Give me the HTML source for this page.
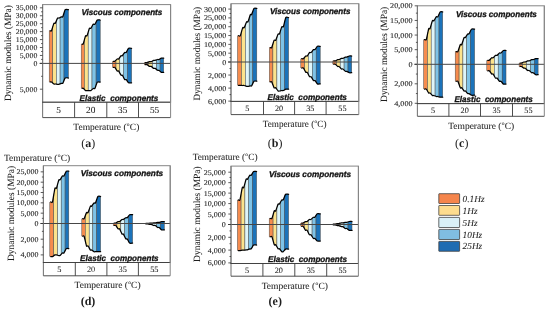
<!DOCTYPE html>
<html><head><meta charset="utf-8"><style>
html,body{margin:0;padding:0;background:#fff;}
text{font-family:'Liberation Serif','Times New Roman',serif;fill:#1e1e1e;text-rendering:geometricPrecision;}
.tb{stroke:#1e1e1e;stroke-width:0.06px;}
.tk{font-size:7.3px;stroke:#1e1e1e;stroke-width:0.1px;}
.yl{font-size:9.6px;stroke:#1e1e1e;stroke-width:0.06px;}
.tp{font-size:9.5px;stroke:#1e1e1e;stroke-width:0.06px;}
.pl{font-size:12px;}
.dg{font-size:85%;}
.lg{font-size:9.3px;font-style:italic;fill:#222;stroke:#222;stroke-width:0.05px;}
.ve{font-family:'Liberation Sans',Arial,sans-serif;font-weight:bold;font-style:italic;font-size:8.3px;fill:#111;stroke:#111;stroke-width:0.3px;}
svg{display:block;}
</style></head><body>
<svg width="550" height="309" viewBox="0 0 550 309">
<rect width="550" height="309" fill="#fff"/>
<rect x="42.6" y="4.6" width="128.00" height="97.60" fill="#fff" stroke="#858585" stroke-width="1"/>
<clipPath id="ca0"><path d="M50.10,82.00 C50.24,82.00 51.12,81.80 51.50,82.00 C51.88,82.20 53.53,83.80 53.90,84.00 C54.27,84.20 54.83,83.97 55.20,84.00 C55.57,84.03 57.23,84.27 57.60,84.30 C57.97,84.33 58.53,84.40 58.90,84.30 C59.27,84.20 60.91,83.40 61.30,83.30 C61.69,83.20 62.41,83.83 62.80,83.30 C63.19,82.77 64.64,78.53 65.20,78.00 C65.76,77.47 68.08,78.00 68.40,78.00 L70.40,78.00 L70.40,9.70 L68.40,9.70 L68.40,9.70 C68.08,9.70 65.76,8.99 65.20,9.70 C64.64,10.41 63.19,16.09 62.80,16.80 C62.41,17.51 61.69,16.67 61.30,16.80 C60.91,16.93 59.27,17.97 58.90,18.10 C58.53,18.23 57.97,17.58 57.60,18.10 C57.23,18.62 55.57,22.78 55.20,23.30 C54.83,23.82 54.27,22.56 53.90,23.30 C53.53,24.04 51.88,29.96 51.50,30.70 C51.12,31.44 50.24,30.70 50.10,30.70 L47.20,30.70 L47.20,82.00 Z"/></clipPath>
<g clip-path="url(#ca0)">
<rect x="49.20" y="3.70" width="3.50" height="86.60" fill="#f68c4e" stroke="#4a4a4a" stroke-width="0.5"/>
<rect x="52.70" y="3.70" width="3.70" height="86.60" fill="#fce38c" stroke="#4a4a4a" stroke-width="0.5"/>
<rect x="56.40" y="3.70" width="3.70" height="86.60" fill="#def5f9" stroke="#4a4a4a" stroke-width="0.5"/>
<rect x="60.10" y="3.70" width="3.90" height="86.60" fill="#7ec3e7" stroke="#4a4a4a" stroke-width="0.5"/>
<rect x="64.00" y="3.70" width="4.40" height="86.60" fill="#1b73ba" stroke="#4a4a4a" stroke-width="0.5"/>
</g>
<path d="M50.10,30.70 C50.24,30.70 51.12,31.44 51.50,30.70 C51.88,29.96 53.53,24.04 53.90,23.30 C54.27,22.56 54.83,23.82 55.20,23.30 C55.57,22.78 57.23,18.62 57.60,18.10 C57.97,17.58 58.53,18.23 58.90,18.10 C59.27,17.97 60.91,16.93 61.30,16.80 C61.69,16.67 62.41,17.51 62.80,16.80 C63.19,16.09 64.64,10.41 65.20,9.70 C65.76,8.99 68.08,9.70 68.40,9.70" fill="none" stroke="#000" stroke-width="1.25" stroke-linecap="round" stroke-linejoin="round"/>
<path d="M50.10,82.00 C50.24,82.00 51.12,81.80 51.50,82.00 C51.88,82.20 53.53,83.80 53.90,84.00 C54.27,84.20 54.83,83.97 55.20,84.00 C55.57,84.03 57.23,84.27 57.60,84.30 C57.97,84.33 58.53,84.40 58.90,84.30 C59.27,84.20 60.91,83.40 61.30,83.30 C61.69,83.20 62.41,83.83 62.80,83.30 C63.19,82.77 64.64,78.53 65.20,78.00 C65.76,77.47 68.08,78.00 68.40,78.00" fill="none" stroke="#000" stroke-width="1.25" stroke-linecap="round" stroke-linejoin="round"/>
<clipPath id="ca1"><path d="M82.10,88.30 C82.21,88.30 82.85,88.07 83.20,88.30 C83.55,88.53 85.22,90.37 85.60,90.60 C85.98,90.83 86.62,90.60 87.00,90.60 C87.38,90.60 89.02,90.60 89.40,90.60 C89.78,90.60 90.42,90.81 90.80,90.60 C91.18,90.39 92.79,88.71 93.20,88.50 C93.61,88.29 94.49,89.14 94.90,88.50 C95.31,87.86 96.77,82.74 97.30,82.10 C97.83,81.46 99.91,82.10 100.20,82.10 L102.20,82.10 L102.20,20.00 L100.20,20.00 L100.20,20.00 C99.91,20.00 97.83,19.57 97.30,20.00 C96.77,20.43 95.31,23.87 94.90,24.30 C94.49,24.73 93.61,23.89 93.20,24.30 C92.79,24.71 91.18,27.99 90.80,28.40 C90.42,28.81 89.78,27.66 89.40,28.40 C89.02,29.14 87.38,35.06 87.00,35.80 C86.62,36.54 85.98,34.98 85.60,35.80 C85.22,36.62 83.55,43.18 83.20,44.00 C82.85,44.82 82.21,44.00 82.10,44.00 L79.20,44.00 L79.20,88.30 Z"/></clipPath>
<g clip-path="url(#ca1)">
<rect x="81.20" y="14.00" width="3.20" height="82.60" fill="#f68c4e" stroke="#4a4a4a" stroke-width="0.5"/>
<rect x="84.40" y="14.00" width="3.80" height="82.60" fill="#fce38c" stroke="#4a4a4a" stroke-width="0.5"/>
<rect x="88.20" y="14.00" width="3.80" height="82.60" fill="#def5f9" stroke="#4a4a4a" stroke-width="0.5"/>
<rect x="92.00" y="14.00" width="4.10" height="82.60" fill="#7ec3e7" stroke="#4a4a4a" stroke-width="0.5"/>
<rect x="96.10" y="14.00" width="4.10" height="82.60" fill="#1b73ba" stroke="#4a4a4a" stroke-width="0.5"/>
</g>
<path d="M82.10,44.00 C82.21,44.00 82.85,44.82 83.20,44.00 C83.55,43.18 85.22,36.62 85.60,35.80 C85.98,34.98 86.62,36.54 87.00,35.80 C87.38,35.06 89.02,29.14 89.40,28.40 C89.78,27.66 90.42,28.81 90.80,28.40 C91.18,27.99 92.79,24.71 93.20,24.30 C93.61,23.89 94.49,24.73 94.90,24.30 C95.31,23.87 96.77,20.43 97.30,20.00 C97.83,19.57 99.91,20.00 100.20,20.00" fill="none" stroke="#000" stroke-width="1.25" stroke-linecap="round" stroke-linejoin="round"/>
<path d="M82.10,88.30 C82.21,88.30 82.85,88.07 83.20,88.30 C83.55,88.53 85.22,90.37 85.60,90.60 C85.98,90.83 86.62,90.60 87.00,90.60 C87.38,90.60 89.02,90.60 89.40,90.60 C89.78,90.60 90.42,90.81 90.80,90.60 C91.18,90.39 92.79,88.71 93.20,88.50 C93.61,88.29 94.49,89.14 94.90,88.50 C95.31,87.86 96.77,82.74 97.30,82.10 C97.83,81.46 99.91,82.10 100.20,82.10" fill="none" stroke="#000" stroke-width="1.25" stroke-linecap="round" stroke-linejoin="round"/>
<clipPath id="ca2"><path d="M113.40,67.40 C113.54,67.40 114.42,67.04 114.80,67.40 C115.18,67.76 116.82,70.64 117.20,71.00 C117.58,71.36 118.22,70.58 118.60,71.00 C118.98,71.42 120.63,74.78 121.00,75.20 C121.37,75.62 121.93,74.76 122.30,75.20 C122.67,75.64 124.31,79.16 124.70,79.60 C125.09,80.04 125.81,79.28 126.20,79.60 C126.59,79.92 128.06,82.48 128.60,82.80 C129.14,83.12 131.30,82.80 131.60,82.80 L133.60,82.80 L133.60,48.30 L131.60,48.30 L131.60,48.30 C131.30,48.30 129.14,47.88 128.60,48.30 C128.06,48.72 126.59,52.08 126.20,52.50 C125.81,52.92 125.09,52.17 124.70,52.50 C124.31,52.83 122.67,55.47 122.30,55.80 C121.93,56.13 121.37,55.48 121.00,55.80 C120.63,56.12 118.98,58.68 118.60,59.00 C118.22,59.32 117.58,58.77 117.20,59.00 C116.82,59.23 115.18,61.07 114.80,61.30 C114.42,61.53 113.54,61.30 113.40,61.30 L110.50,61.30 L110.50,67.40 Z"/></clipPath>
<g clip-path="url(#ca2)">
<rect x="112.50" y="42.30" width="3.50" height="46.50" fill="#f68c4e" stroke="#4a4a4a" stroke-width="0.5"/>
<rect x="116.00" y="42.30" width="3.80" height="46.50" fill="#fce38c" stroke="#4a4a4a" stroke-width="0.5"/>
<rect x="119.80" y="42.30" width="3.70" height="46.50" fill="#def5f9" stroke="#4a4a4a" stroke-width="0.5"/>
<rect x="123.50" y="42.30" width="3.90" height="46.50" fill="#7ec3e7" stroke="#4a4a4a" stroke-width="0.5"/>
<rect x="127.40" y="42.30" width="4.20" height="46.50" fill="#1b73ba" stroke="#4a4a4a" stroke-width="0.5"/>
</g>
<path d="M113.40,61.30 C113.54,61.30 114.42,61.53 114.80,61.30 C115.18,61.07 116.82,59.23 117.20,59.00 C117.58,58.77 118.22,59.32 118.60,59.00 C118.98,58.68 120.63,56.12 121.00,55.80 C121.37,55.48 121.93,56.13 122.30,55.80 C122.67,55.47 124.31,52.83 124.70,52.50 C125.09,52.17 125.81,52.92 126.20,52.50 C126.59,52.08 128.06,48.72 128.60,48.30 C129.14,47.88 131.30,48.30 131.60,48.30" fill="none" stroke="#000" stroke-width="1.25" stroke-linecap="round" stroke-linejoin="round"/>
<path d="M113.40,67.40 C113.54,67.40 114.42,67.04 114.80,67.40 C115.18,67.76 116.82,70.64 117.20,71.00 C117.58,71.36 118.22,70.58 118.60,71.00 C118.98,71.42 120.63,74.78 121.00,75.20 C121.37,75.62 121.93,74.76 122.30,75.20 C122.67,75.64 124.31,79.16 124.70,79.60 C125.09,80.04 125.81,79.28 126.20,79.60 C126.59,79.92 128.06,82.48 128.60,82.80 C129.14,83.12 131.30,82.80 131.60,82.80" fill="none" stroke="#000" stroke-width="1.25" stroke-linecap="round" stroke-linejoin="round"/>
<clipPath id="ca3"><path d="M145.20,64.70 C145.38,64.70 146.58,64.53 147.00,64.70 C147.42,64.87 148.98,66.23 149.40,66.40 C149.82,66.57 150.78,66.20 151.20,66.40 C151.62,66.60 153.20,68.20 153.60,68.40 C154.00,68.60 154.80,68.21 155.20,68.40 C155.60,68.59 157.23,70.11 157.60,70.30 C157.97,70.49 158.53,70.10 158.90,70.30 C159.27,70.50 160.82,72.10 161.30,72.30 C161.78,72.50 163.46,72.30 163.70,72.30 L165.70,72.30 L165.70,58.20 L163.70,58.20 L163.70,58.20 C163.46,58.20 161.78,58.07 161.30,58.20 C160.82,58.33 159.27,59.37 158.90,59.50 C158.53,59.63 157.97,59.41 157.60,59.50 C157.23,59.59 155.60,60.31 155.20,60.40 C154.80,60.49 154.00,60.28 153.60,60.40 C153.20,60.52 151.62,61.48 151.20,61.60 C150.78,61.72 149.82,61.50 149.40,61.60 C148.98,61.70 147.42,62.50 147.00,62.60 C146.58,62.70 145.38,62.60 145.20,62.60 L142.30,62.60 L142.30,64.70 Z"/></clipPath>
<g clip-path="url(#ca3)">
<rect x="144.30" y="52.20" width="3.90" height="26.10" fill="#f68c4e" stroke="#4a4a4a" stroke-width="0.5"/>
<rect x="148.20" y="52.20" width="4.20" height="26.10" fill="#fce38c" stroke="#4a4a4a" stroke-width="0.5"/>
<rect x="152.40" y="52.20" width="4.00" height="26.10" fill="#def5f9" stroke="#4a4a4a" stroke-width="0.5"/>
<rect x="156.40" y="52.20" width="3.70" height="26.10" fill="#7ec3e7" stroke="#4a4a4a" stroke-width="0.5"/>
<rect x="160.10" y="52.20" width="3.60" height="26.10" fill="#1b73ba" stroke="#4a4a4a" stroke-width="0.5"/>
</g>
<path d="M145.20,62.60 C145.38,62.60 146.58,62.70 147.00,62.60 C147.42,62.50 148.98,61.70 149.40,61.60 C149.82,61.50 150.78,61.72 151.20,61.60 C151.62,61.48 153.20,60.52 153.60,60.40 C154.00,60.28 154.80,60.49 155.20,60.40 C155.60,60.31 157.23,59.59 157.60,59.50 C157.97,59.41 158.53,59.63 158.90,59.50 C159.27,59.37 160.82,58.33 161.30,58.20 C161.78,58.07 163.46,58.20 163.70,58.20" fill="none" stroke="#000" stroke-width="1.25" stroke-linecap="round" stroke-linejoin="round"/>
<path d="M145.20,64.70 C145.38,64.70 146.58,64.53 147.00,64.70 C147.42,64.87 148.98,66.23 149.40,66.40 C149.82,66.57 150.78,66.20 151.20,66.40 C151.62,66.60 153.20,68.20 153.60,68.40 C154.00,68.60 154.80,68.21 155.20,68.40 C155.60,68.59 157.23,70.11 157.60,70.30 C157.97,70.49 158.53,70.10 158.90,70.30 C159.27,70.50 160.82,72.10 161.30,72.30 C161.78,72.50 163.46,72.30 163.70,72.30" fill="none" stroke="#000" stroke-width="1.25" stroke-linecap="round" stroke-linejoin="round"/>
<line x1="39.6" y1="63.4" x2="170.6" y2="63.4" stroke="#464646" stroke-width="1"/>
<line x1="42.6" y1="4.6" x2="42.6" y2="117.6" stroke="#7a7a7a" stroke-width="1.1"/>
<line x1="42.1" y1="102.2" x2="170.6" y2="102.2" stroke="#3a3a3a" stroke-width="0.9"/>
<line x1="42.6" y1="117.6" x2="170.6" y2="117.6" stroke="#3a3a3a" stroke-width="0.9"/>
<line x1="170.6" y1="4.6" x2="170.6" y2="117.6" stroke="#858585" stroke-width="1"/>
<line x1="74.6" y1="102.2" x2="74.6" y2="117.6" stroke="#3a3a3a" stroke-width="0.9"/>
<line x1="106.8" y1="102.2" x2="106.8" y2="117.6" stroke="#3a3a3a" stroke-width="0.9"/>
<line x1="138.5" y1="102.2" x2="138.5" y2="117.6" stroke="#3a3a3a" stroke-width="0.9"/>
<text class="tb" x="58.60" y="112.97" font-size="9.3" text-anchor="middle">5</text>
<text class="tb" x="90.70" y="112.97" font-size="9.3" text-anchor="middle">20</text>
<text class="tb" x="122.65" y="112.97" font-size="9.3" text-anchor="middle">35</text>
<text class="tb" x="154.55" y="112.97" font-size="9.3" text-anchor="middle">55</text>
<line x1="39.9" y1="63.40" x2="42.6" y2="63.40" stroke="#333" stroke-width="0.8"/>
<line x1="41.1" y1="59.43" x2="42.6" y2="59.43" stroke="#333" stroke-width="0.8"/>
<text class="tk" transform="translate(37.3,65.90) scale(1.068,1)" text-anchor="end">0</text>
<line x1="39.9" y1="55.46" x2="42.6" y2="55.46" stroke="#333" stroke-width="0.8"/>
<line x1="41.1" y1="51.49" x2="42.6" y2="51.49" stroke="#333" stroke-width="0.8"/>
<text class="tk" transform="translate(37.3,57.96) scale(1.068,1)" text-anchor="end">5,000</text>
<line x1="39.9" y1="47.52" x2="42.6" y2="47.52" stroke="#333" stroke-width="0.8"/>
<line x1="41.1" y1="43.55" x2="42.6" y2="43.55" stroke="#333" stroke-width="0.8"/>
<text class="tk" transform="translate(37.3,50.02) scale(1.068,1)" text-anchor="end">10,000</text>
<line x1="39.9" y1="39.58" x2="42.6" y2="39.58" stroke="#333" stroke-width="0.8"/>
<line x1="41.1" y1="35.61" x2="42.6" y2="35.61" stroke="#333" stroke-width="0.8"/>
<text class="tk" transform="translate(37.3,42.08) scale(1.068,1)" text-anchor="end">15,000</text>
<line x1="39.9" y1="31.64" x2="42.6" y2="31.64" stroke="#333" stroke-width="0.8"/>
<line x1="41.1" y1="27.67" x2="42.6" y2="27.67" stroke="#333" stroke-width="0.8"/>
<text class="tk" transform="translate(37.3,34.14) scale(1.068,1)" text-anchor="end">20,000</text>
<line x1="39.9" y1="23.70" x2="42.6" y2="23.70" stroke="#333" stroke-width="0.8"/>
<line x1="41.1" y1="19.73" x2="42.6" y2="19.73" stroke="#333" stroke-width="0.8"/>
<text class="tk" transform="translate(37.3,26.20) scale(1.068,1)" text-anchor="end">25,000</text>
<line x1="39.9" y1="15.76" x2="42.6" y2="15.76" stroke="#333" stroke-width="0.8"/>
<line x1="41.1" y1="11.79" x2="42.6" y2="11.79" stroke="#333" stroke-width="0.8"/>
<text class="tk" transform="translate(37.3,18.26) scale(1.068,1)" text-anchor="end">30,000</text>
<line x1="39.9" y1="7.82" x2="42.6" y2="7.82" stroke="#333" stroke-width="0.8"/>
<text class="tk" transform="translate(37.3,10.32) scale(1.068,1)" text-anchor="end">35,000</text>
<line x1="39.9" y1="89.20" x2="42.6" y2="89.20" stroke="#333" stroke-width="0.8"/>
<line x1="41.1" y1="76.30" x2="42.6" y2="76.30" stroke="#333" stroke-width="0.8"/>
<text class="tk" transform="translate(37.3,91.70) scale(1.068,1)" text-anchor="end">5,000</text>
<text class="yl" transform="translate(11.2,53.00) rotate(-90)" x="0" y="0" text-anchor="middle" textLength="96.0" lengthAdjust="spacingAndGlyphs">Dynamic modules (MPa)</text>
<text class="ve" x="81.4" y="15.1" textLength="80.9" lengthAdjust="spacingAndGlyphs">Viscous components</text>
<text class="ve" x="79.5" y="101.2" textLength="78.8" lengthAdjust="spacingAndGlyphs" xml:space="preserve">Elastic  components</text>
<text class="tp" x="73.3" y="130.0" textLength="66.0" lengthAdjust="spacingAndGlyphs">Temperature (<tspan class="dg" dy="-0.9">°</tspan><tspan dy="0.9">C</tspan>)</text>
<text class="pl" x="88.15" y="147.0" text-anchor="middle">(<tspan font-weight="bold">a</tspan>)</text>
<rect x="231.0" y="3.7" width="127.80" height="97.70" fill="#fff" stroke="#858585" stroke-width="1"/>
<clipPath id="cb0"><path d="M238.40,85.30 C238.59,85.30 239.87,85.28 240.30,85.30 C240.73,85.32 242.31,85.48 242.70,85.50 C243.09,85.52 243.81,85.42 244.20,85.50 C244.59,85.58 246.22,86.22 246.60,86.30 C246.98,86.38 247.62,86.34 248.00,86.30 C248.38,86.26 250.04,85.94 250.40,85.90 C250.76,85.86 251.24,86.37 251.60,85.90 C251.96,85.43 253.48,81.67 254.00,81.20 C254.52,80.73 256.52,81.20 256.80,81.20 L258.80,81.20 L258.80,8.40 L256.80,8.40 L256.80,8.40 C256.52,8.40 254.52,7.78 254.00,8.40 C253.48,9.02 251.96,13.98 251.60,14.60 C251.24,15.22 250.76,13.88 250.40,14.60 C250.04,15.32 248.38,21.08 248.00,21.80 C247.62,22.52 246.98,21.21 246.60,21.80 C246.22,22.39 244.59,27.11 244.20,27.70 C243.81,28.29 243.09,26.90 242.70,27.70 C242.31,28.50 240.73,34.90 240.30,35.70 C239.87,36.50 238.59,35.70 238.40,35.70 L235.50,35.70 L235.50,85.30 Z"/></clipPath>
<g clip-path="url(#cb0)">
<rect x="237.50" y="2.40" width="4.00" height="89.90" fill="#f68c4e" stroke="#4a4a4a" stroke-width="0.5"/>
<rect x="241.50" y="2.40" width="3.90" height="89.90" fill="#fce38c" stroke="#4a4a4a" stroke-width="0.5"/>
<rect x="245.40" y="2.40" width="3.80" height="89.90" fill="#def5f9" stroke="#4a4a4a" stroke-width="0.5"/>
<rect x="249.20" y="2.40" width="3.60" height="89.90" fill="#7ec3e7" stroke="#4a4a4a" stroke-width="0.5"/>
<rect x="252.80" y="2.40" width="4.00" height="89.90" fill="#1b73ba" stroke="#4a4a4a" stroke-width="0.5"/>
</g>
<path d="M238.40,35.70 C238.59,35.70 239.87,36.50 240.30,35.70 C240.73,34.90 242.31,28.50 242.70,27.70 C243.09,26.90 243.81,28.29 244.20,27.70 C244.59,27.11 246.22,22.39 246.60,21.80 C246.98,21.21 247.62,22.52 248.00,21.80 C248.38,21.08 250.04,15.32 250.40,14.60 C250.76,13.88 251.24,15.22 251.60,14.60 C251.96,13.98 253.48,9.02 254.00,8.40 C254.52,7.78 256.52,8.40 256.80,8.40" fill="none" stroke="#000" stroke-width="1.25" stroke-linecap="round" stroke-linejoin="round"/>
<path d="M238.40,85.30 C238.59,85.30 239.87,85.28 240.30,85.30 C240.73,85.32 242.31,85.48 242.70,85.50 C243.09,85.52 243.81,85.42 244.20,85.50 C244.59,85.58 246.22,86.22 246.60,86.30 C246.98,86.38 247.62,86.34 248.00,86.30 C248.38,86.26 250.04,85.94 250.40,85.90 C250.76,85.86 251.24,86.37 251.60,85.90 C251.96,85.43 253.48,81.67 254.00,81.20 C254.52,80.73 256.52,81.20 256.80,81.20" fill="none" stroke="#000" stroke-width="1.25" stroke-linecap="round" stroke-linejoin="round"/>
<clipPath id="cb1"><path d="M270.20,81.90 C270.35,81.90 271.31,81.31 271.70,81.90 C272.09,82.49 273.70,87.21 274.10,87.80 C274.50,88.39 275.30,87.48 275.70,87.80 C276.10,88.12 277.73,90.68 278.10,91.00 C278.47,91.32 279.03,91.05 279.40,91.00 C279.77,90.95 281.40,90.55 281.80,90.50 C282.20,90.45 283.00,90.63 283.40,90.50 C283.80,90.37 285.28,89.33 285.80,89.20 C286.32,89.07 288.32,89.20 288.60,89.20 L290.60,89.20 L290.60,17.60 L288.60,17.60 L288.60,17.60 C288.32,17.60 286.32,16.69 285.80,17.60 C285.28,18.51 283.80,25.79 283.40,26.70 C283.00,27.61 282.20,25.97 281.80,26.70 C281.40,27.43 279.77,33.27 279.40,34.00 C279.03,34.73 278.47,33.37 278.10,34.00 C277.73,34.63 276.10,39.67 275.70,40.30 C275.30,40.93 274.50,39.57 274.10,40.30 C273.70,41.03 272.09,46.87 271.70,47.60 C271.31,48.33 270.35,47.60 270.20,47.60 L267.30,47.60 L267.30,81.90 Z"/></clipPath>
<g clip-path="url(#cb1)">
<rect x="269.30" y="11.60" width="3.60" height="85.40" fill="#f68c4e" stroke="#4a4a4a" stroke-width="0.5"/>
<rect x="272.90" y="11.60" width="4.00" height="85.40" fill="#fce38c" stroke="#4a4a4a" stroke-width="0.5"/>
<rect x="276.90" y="11.60" width="3.70" height="85.40" fill="#def5f9" stroke="#4a4a4a" stroke-width="0.5"/>
<rect x="280.60" y="11.60" width="4.00" height="85.40" fill="#7ec3e7" stroke="#4a4a4a" stroke-width="0.5"/>
<rect x="284.60" y="11.60" width="4.00" height="85.40" fill="#1b73ba" stroke="#4a4a4a" stroke-width="0.5"/>
</g>
<path d="M270.20,47.60 C270.35,47.60 271.31,48.33 271.70,47.60 C272.09,46.87 273.70,41.03 274.10,40.30 C274.50,39.57 275.30,40.93 275.70,40.30 C276.10,39.67 277.73,34.63 278.10,34.00 C278.47,33.37 279.03,34.73 279.40,34.00 C279.77,33.27 281.40,27.43 281.80,26.70 C282.20,25.97 283.00,27.61 283.40,26.70 C283.80,25.79 285.28,18.51 285.80,17.60 C286.32,16.69 288.32,17.60 288.60,17.60" fill="none" stroke="#000" stroke-width="1.25" stroke-linecap="round" stroke-linejoin="round"/>
<path d="M270.20,81.90 C270.35,81.90 271.31,81.31 271.70,81.90 C272.09,82.49 273.70,87.21 274.10,87.80 C274.50,88.39 275.30,87.48 275.70,87.80 C276.10,88.12 277.73,90.68 278.10,91.00 C278.47,91.32 279.03,91.05 279.40,91.00 C279.77,90.95 281.40,90.55 281.80,90.50 C282.20,90.45 283.00,90.63 283.40,90.50 C283.80,90.37 285.28,89.33 285.80,89.20 C286.32,89.07 288.32,89.20 288.60,89.20" fill="none" stroke="#000" stroke-width="1.25" stroke-linecap="round" stroke-linejoin="round"/>
<clipPath id="cb2"><path d="M301.70,68.00 C301.87,68.00 302.99,67.57 303.40,68.00 C303.81,68.43 305.42,71.87 305.80,72.30 C306.18,72.73 306.82,71.86 307.20,72.30 C307.58,72.74 309.21,76.26 309.60,76.70 C309.99,77.14 310.71,76.31 311.10,76.70 C311.49,77.09 313.11,80.21 313.50,80.60 C313.89,80.99 314.61,80.27 315.00,80.60 C315.39,80.93 316.88,83.57 317.40,83.90 C317.92,84.23 319.92,83.90 320.20,83.90 L322.20,83.90 L322.20,46.30 L320.20,46.30 L320.20,46.30 C319.92,46.30 317.92,45.97 317.40,46.30 C316.88,46.63 315.39,49.27 315.00,49.60 C314.61,49.93 313.89,49.31 313.50,49.60 C313.11,49.89 311.49,52.21 311.10,52.50 C310.71,52.79 309.99,52.15 309.60,52.50 C309.21,52.85 307.58,55.65 307.20,56.00 C306.82,56.35 306.18,55.73 305.80,56.00 C305.42,56.27 303.81,58.43 303.40,58.70 C302.99,58.97 301.87,58.70 301.70,58.70 L298.80,58.70 L298.80,68.00 Z"/></clipPath>
<g clip-path="url(#cb2)">
<rect x="300.80" y="40.30" width="3.80" height="49.60" fill="#f68c4e" stroke="#4a4a4a" stroke-width="0.5"/>
<rect x="304.60" y="40.30" width="3.80" height="49.60" fill="#fce38c" stroke="#4a4a4a" stroke-width="0.5"/>
<rect x="308.40" y="40.30" width="3.90" height="49.60" fill="#def5f9" stroke="#4a4a4a" stroke-width="0.5"/>
<rect x="312.30" y="40.30" width="3.90" height="49.60" fill="#7ec3e7" stroke="#4a4a4a" stroke-width="0.5"/>
<rect x="316.20" y="40.30" width="4.00" height="49.60" fill="#1b73ba" stroke="#4a4a4a" stroke-width="0.5"/>
</g>
<path d="M301.70,58.70 C301.87,58.70 302.99,58.97 303.40,58.70 C303.81,58.43 305.42,56.27 305.80,56.00 C306.18,55.73 306.82,56.35 307.20,56.00 C307.58,55.65 309.21,52.85 309.60,52.50 C309.99,52.15 310.71,52.79 311.10,52.50 C311.49,52.21 313.11,49.89 313.50,49.60 C313.89,49.31 314.61,49.93 315.00,49.60 C315.39,49.27 316.88,46.63 317.40,46.30 C317.92,45.97 319.92,46.30 320.20,46.30" fill="none" stroke="#000" stroke-width="1.25" stroke-linecap="round" stroke-linejoin="round"/>
<path d="M301.70,68.00 C301.87,68.00 302.99,67.57 303.40,68.00 C303.81,68.43 305.42,71.87 305.80,72.30 C306.18,72.73 306.82,71.86 307.20,72.30 C307.58,72.74 309.21,76.26 309.60,76.70 C309.99,77.14 310.71,76.31 311.10,76.70 C311.49,77.09 313.11,80.21 313.50,80.60 C313.89,80.99 314.61,80.27 315.00,80.60 C315.39,80.93 316.88,83.57 317.40,83.90 C317.92,84.23 319.92,83.90 320.20,83.90" fill="none" stroke="#000" stroke-width="1.25" stroke-linecap="round" stroke-linejoin="round"/>
<clipPath id="cb3"><path d="M333.70,64.20 C333.86,64.20 334.90,63.97 335.30,64.20 C335.70,64.43 337.33,66.27 337.70,66.50 C338.07,66.73 338.63,66.25 339.00,66.50 C339.37,66.75 341.01,68.75 341.40,69.00 C341.79,69.25 342.51,68.77 342.90,69.00 C343.29,69.23 344.91,71.07 345.30,71.30 C345.69,71.53 346.41,71.16 346.80,71.30 C347.19,71.44 348.71,72.56 349.20,72.70 C349.69,72.84 351.45,72.70 351.70,72.70 L353.70,72.70 L353.70,56.00 L351.70,56.00 L351.70,56.00 C351.45,56.00 349.69,55.89 349.20,56.00 C348.71,56.11 347.19,56.99 346.80,57.10 C346.41,57.21 345.69,56.97 345.30,57.10 C344.91,57.23 343.29,58.27 342.90,58.40 C342.51,58.53 341.79,58.27 341.40,58.40 C341.01,58.53 339.37,59.57 339.00,59.70 C338.63,59.83 338.07,59.59 337.70,59.70 C337.33,59.81 335.70,60.69 335.30,60.80 C334.90,60.91 333.86,60.80 333.70,60.80 L330.80,60.80 L330.80,64.20 Z"/></clipPath>
<g clip-path="url(#cb3)">
<rect x="332.80" y="50.00" width="3.70" height="28.70" fill="#f68c4e" stroke="#4a4a4a" stroke-width="0.5"/>
<rect x="336.50" y="50.00" width="3.70" height="28.70" fill="#fce38c" stroke="#4a4a4a" stroke-width="0.5"/>
<rect x="340.20" y="50.00" width="3.90" height="28.70" fill="#def5f9" stroke="#4a4a4a" stroke-width="0.5"/>
<rect x="344.10" y="50.00" width="3.90" height="28.70" fill="#7ec3e7" stroke="#4a4a4a" stroke-width="0.5"/>
<rect x="348.00" y="50.00" width="3.70" height="28.70" fill="#1b73ba" stroke="#4a4a4a" stroke-width="0.5"/>
</g>
<path d="M333.70,60.80 C333.86,60.80 334.90,60.91 335.30,60.80 C335.70,60.69 337.33,59.81 337.70,59.70 C338.07,59.59 338.63,59.83 339.00,59.70 C339.37,59.57 341.01,58.53 341.40,58.40 C341.79,58.27 342.51,58.53 342.90,58.40 C343.29,58.27 344.91,57.23 345.30,57.10 C345.69,56.97 346.41,57.21 346.80,57.10 C347.19,56.99 348.71,56.11 349.20,56.00 C349.69,55.89 351.45,56.00 351.70,56.00" fill="none" stroke="#000" stroke-width="1.25" stroke-linecap="round" stroke-linejoin="round"/>
<path d="M333.70,64.20 C333.86,64.20 334.90,63.97 335.30,64.20 C335.70,64.43 337.33,66.27 337.70,66.50 C338.07,66.73 338.63,66.25 339.00,66.50 C339.37,66.75 341.01,68.75 341.40,69.00 C341.79,69.25 342.51,68.77 342.90,69.00 C343.29,69.23 344.91,71.07 345.30,71.30 C345.69,71.53 346.41,71.16 346.80,71.30 C347.19,71.44 348.71,72.56 349.20,72.70 C349.69,72.84 351.45,72.70 351.70,72.70" fill="none" stroke="#000" stroke-width="1.25" stroke-linecap="round" stroke-linejoin="round"/>
<line x1="228.0" y1="62.0" x2="358.8" y2="62.0" stroke="#464646" stroke-width="1"/>
<line x1="231.0" y1="3.7" x2="231.0" y2="114.6" stroke="#7a7a7a" stroke-width="1.1"/>
<line x1="230.5" y1="101.4" x2="358.8" y2="101.4" stroke="#3a3a3a" stroke-width="0.9"/>
<line x1="231.0" y1="114.6" x2="358.8" y2="114.6" stroke="#3a3a3a" stroke-width="0.9"/>
<line x1="358.8" y1="3.7" x2="358.8" y2="114.6" stroke="#858585" stroke-width="1"/>
<line x1="263.5" y1="101.4" x2="263.5" y2="114.6" stroke="#3a3a3a" stroke-width="0.9"/>
<line x1="294.6" y1="101.4" x2="294.6" y2="114.6" stroke="#3a3a3a" stroke-width="0.9"/>
<line x1="326.1" y1="101.4" x2="326.1" y2="114.6" stroke="#3a3a3a" stroke-width="0.9"/>
<text class="tb" x="247.25" y="110.71" font-size="8.2" text-anchor="middle">5</text>
<text class="tb" x="279.05" y="110.71" font-size="8.2" text-anchor="middle">20</text>
<text class="tb" x="310.35" y="110.71" font-size="8.2" text-anchor="middle">35</text>
<text class="tb" x="342.45" y="110.71" font-size="8.2" text-anchor="middle">55</text>
<line x1="228.3" y1="62.00" x2="231.0" y2="62.00" stroke="#333" stroke-width="0.8"/>
<line x1="229.5" y1="57.59" x2="231.0" y2="57.59" stroke="#333" stroke-width="0.8"/>
<text class="tk" transform="translate(226.3,64.50) scale(1.110,1)" text-anchor="end">0</text>
<line x1="228.3" y1="53.18" x2="231.0" y2="53.18" stroke="#333" stroke-width="0.8"/>
<line x1="229.5" y1="48.77" x2="231.0" y2="48.77" stroke="#333" stroke-width="0.8"/>
<text class="tk" transform="translate(226.3,55.68) scale(1.110,1)" text-anchor="end">5,000</text>
<line x1="228.3" y1="44.36" x2="231.0" y2="44.36" stroke="#333" stroke-width="0.8"/>
<line x1="229.5" y1="39.95" x2="231.0" y2="39.95" stroke="#333" stroke-width="0.8"/>
<text class="tk" transform="translate(226.3,46.86) scale(1.110,1)" text-anchor="end">10,000</text>
<line x1="228.3" y1="35.54" x2="231.0" y2="35.54" stroke="#333" stroke-width="0.8"/>
<line x1="229.5" y1="31.13" x2="231.0" y2="31.13" stroke="#333" stroke-width="0.8"/>
<text class="tk" transform="translate(226.3,38.04) scale(1.110,1)" text-anchor="end">15,000</text>
<line x1="228.3" y1="26.72" x2="231.0" y2="26.72" stroke="#333" stroke-width="0.8"/>
<line x1="229.5" y1="22.31" x2="231.0" y2="22.31" stroke="#333" stroke-width="0.8"/>
<text class="tk" transform="translate(226.3,29.22) scale(1.110,1)" text-anchor="end">20,000</text>
<line x1="228.3" y1="17.90" x2="231.0" y2="17.90" stroke="#333" stroke-width="0.8"/>
<line x1="229.5" y1="13.49" x2="231.0" y2="13.49" stroke="#333" stroke-width="0.8"/>
<text class="tk" transform="translate(226.3,20.40) scale(1.110,1)" text-anchor="end">25,000</text>
<line x1="228.3" y1="9.08" x2="231.0" y2="9.08" stroke="#333" stroke-width="0.8"/>
<text class="tk" transform="translate(226.3,11.58) scale(1.110,1)" text-anchor="end">30,000</text>
<line x1="228.3" y1="75.04" x2="231.0" y2="75.04" stroke="#333" stroke-width="0.8"/>
<line x1="228.3" y1="88.08" x2="231.0" y2="88.08" stroke="#333" stroke-width="0.8"/>
<line x1="228.3" y1="101.12" x2="231.0" y2="101.12" stroke="#333" stroke-width="0.8"/>
<line x1="229.5" y1="68.52" x2="231.0" y2="68.52" stroke="#333" stroke-width="0.8"/>
<line x1="229.5" y1="81.56" x2="231.0" y2="81.56" stroke="#333" stroke-width="0.8"/>
<line x1="229.5" y1="94.60" x2="231.0" y2="94.60" stroke="#333" stroke-width="0.8"/>
<text class="tk" transform="translate(226.3,77.54) scale(1.110,1)" text-anchor="end">2,000</text>
<text class="tk" transform="translate(226.3,90.58) scale(1.110,1)" text-anchor="end">4,000</text>
<text class="tk" transform="translate(226.3,103.62) scale(1.110,1)" text-anchor="end">6,000</text>
<text class="yl" transform="translate(199.9,53.65) rotate(-90)" x="0" y="0" text-anchor="middle" textLength="93.7" lengthAdjust="spacingAndGlyphs">Dynamic modules (MPa)</text>
<text class="ve" x="269.9" y="13.6" textLength="80.5" lengthAdjust="spacingAndGlyphs">Viscous components</text>
<text class="ve" x="267.5" y="100.0" textLength="79.4" lengthAdjust="spacingAndGlyphs" xml:space="preserve">Elastic  components</text>
<text class="tp" x="262.8" y="127.2" textLength="63.7" lengthAdjust="spacingAndGlyphs">Temperature (<tspan class="dg" dy="-0.9">°</tspan><tspan dy="0.9">C</tspan>)</text>
<text class="pl" x="275.05" y="146.8" text-anchor="middle">(<tspan font-weight="bold">b</tspan>)</text>
<rect x="417.4" y="5.8" width="126.90" height="97.80" fill="#fff" stroke="#858585" stroke-width="1"/>
<clipPath id="cc0"><path d="M424.50,89.10 C424.68,89.10 425.88,88.71 426.30,89.10 C426.72,89.49 428.33,92.61 428.70,93.00 C429.07,93.39 429.63,92.75 430.00,93.00 C430.37,93.25 432.01,95.25 432.40,95.50 C432.79,95.75 433.51,95.40 433.90,95.50 C434.29,95.60 435.91,96.40 436.30,96.50 C436.69,96.60 437.41,96.43 437.80,96.50 C438.19,96.57 439.71,97.13 440.20,97.20 C440.69,97.27 442.45,97.20 442.70,97.20 L444.70,97.20 L444.70,11.90 L442.70,11.90 L442.70,11.90 C442.45,11.90 440.69,11.41 440.20,11.90 C439.71,12.39 438.19,16.31 437.80,16.80 C437.41,17.29 436.69,16.41 436.30,16.80 C435.91,17.19 434.29,20.31 433.90,20.70 C433.51,21.09 432.79,19.90 432.40,20.70 C432.01,21.50 430.37,27.90 430.00,28.70 C429.63,29.50 429.07,27.62 428.70,28.70 C428.33,29.78 426.72,38.42 426.30,39.50 C425.88,40.58 424.68,39.50 424.50,39.50 L421.60,39.50 L421.60,89.10 Z"/></clipPath>
<g clip-path="url(#cc0)">
<rect x="423.60" y="5.90" width="3.90" height="97.30" fill="#f68c4e" stroke="#4a4a4a" stroke-width="0.5"/>
<rect x="427.50" y="5.90" width="3.70" height="97.30" fill="#fce38c" stroke="#4a4a4a" stroke-width="0.5"/>
<rect x="431.20" y="5.90" width="3.90" height="97.30" fill="#def5f9" stroke="#4a4a4a" stroke-width="0.5"/>
<rect x="435.10" y="5.90" width="3.90" height="97.30" fill="#7ec3e7" stroke="#4a4a4a" stroke-width="0.5"/>
<rect x="439.00" y="5.90" width="3.70" height="97.30" fill="#1b73ba" stroke="#4a4a4a" stroke-width="0.5"/>
</g>
<path d="M424.50,39.50 C424.68,39.50 425.88,40.58 426.30,39.50 C426.72,38.42 428.33,29.78 428.70,28.70 C429.07,27.62 429.63,29.50 430.00,28.70 C430.37,27.90 432.01,21.50 432.40,20.70 C432.79,19.90 433.51,21.09 433.90,20.70 C434.29,20.31 435.91,17.19 436.30,16.80 C436.69,16.41 437.41,17.29 437.80,16.80 C438.19,16.31 439.71,12.39 440.20,11.90 C440.69,11.41 442.45,11.90 442.70,11.90" fill="none" stroke="#000" stroke-width="1.25" stroke-linecap="round" stroke-linejoin="round"/>
<path d="M424.50,89.10 C424.68,89.10 425.88,88.71 426.30,89.10 C426.72,89.49 428.33,92.61 428.70,93.00 C429.07,93.39 429.63,92.75 430.00,93.00 C430.37,93.25 432.01,95.25 432.40,95.50 C432.79,95.75 433.51,95.40 433.90,95.50 C434.29,95.60 435.91,96.40 436.30,96.50 C436.69,96.60 437.41,96.43 437.80,96.50 C438.19,96.57 439.71,97.13 440.20,97.20 C440.69,97.27 442.45,97.20 442.70,97.20" fill="none" stroke="#000" stroke-width="1.25" stroke-linecap="round" stroke-linejoin="round"/>
<clipPath id="cc1"><path d="M456.10,81.30 C456.28,81.30 457.48,80.65 457.90,81.30 C458.32,81.95 459.92,87.15 460.30,87.80 C460.68,88.45 461.32,87.48 461.70,87.80 C462.08,88.12 463.73,90.68 464.10,91.00 C464.47,91.32 465.03,90.74 465.40,91.00 C465.77,91.26 467.43,93.34 467.80,93.60 C468.17,93.86 468.73,93.44 469.10,93.60 C469.47,93.76 470.95,95.04 471.50,95.20 C472.05,95.36 474.29,95.20 474.60,95.20 L476.60,95.20 L476.60,29.10 L474.60,29.10 L474.60,29.10 C474.29,29.10 472.05,28.62 471.50,29.10 C470.95,29.58 469.47,33.42 469.10,33.90 C468.73,34.38 468.17,33.54 467.80,33.90 C467.43,34.26 465.77,37.14 465.40,37.50 C465.03,37.86 464.47,36.79 464.10,37.50 C463.73,38.21 462.08,43.89 461.70,44.60 C461.32,45.31 460.68,43.91 460.30,44.60 C459.92,45.29 458.32,50.81 457.90,51.50 C457.48,52.19 456.28,51.50 456.10,51.50 L453.20,51.50 L453.20,81.30 Z"/></clipPath>
<g clip-path="url(#cc1)">
<rect x="455.20" y="23.10" width="3.90" height="78.10" fill="#f68c4e" stroke="#4a4a4a" stroke-width="0.5"/>
<rect x="459.10" y="23.10" width="3.80" height="78.10" fill="#fce38c" stroke="#4a4a4a" stroke-width="0.5"/>
<rect x="462.90" y="23.10" width="3.70" height="78.10" fill="#def5f9" stroke="#4a4a4a" stroke-width="0.5"/>
<rect x="466.60" y="23.10" width="3.70" height="78.10" fill="#7ec3e7" stroke="#4a4a4a" stroke-width="0.5"/>
<rect x="470.30" y="23.10" width="4.30" height="78.10" fill="#1b73ba" stroke="#4a4a4a" stroke-width="0.5"/>
</g>
<path d="M456.10,51.50 C456.28,51.50 457.48,52.19 457.90,51.50 C458.32,50.81 459.92,45.29 460.30,44.60 C460.68,43.91 461.32,45.31 461.70,44.60 C462.08,43.89 463.73,38.21 464.10,37.50 C464.47,36.79 465.03,37.86 465.40,37.50 C465.77,37.14 467.43,34.26 467.80,33.90 C468.17,33.54 468.73,34.38 469.10,33.90 C469.47,33.42 470.95,29.58 471.50,29.10 C472.05,28.62 474.29,29.10 474.60,29.10" fill="none" stroke="#000" stroke-width="1.25" stroke-linecap="round" stroke-linejoin="round"/>
<path d="M456.10,81.30 C456.28,81.30 457.48,80.65 457.90,81.30 C458.32,81.95 459.92,87.15 460.30,87.80 C460.68,88.45 461.32,87.48 461.70,87.80 C462.08,88.12 463.73,90.68 464.10,91.00 C464.47,91.32 465.03,90.74 465.40,91.00 C465.77,91.26 467.43,93.34 467.80,93.60 C468.17,93.86 468.73,93.44 469.10,93.60 C469.47,93.76 470.95,95.04 471.50,95.20 C472.05,95.36 474.29,95.20 474.60,95.20" fill="none" stroke="#000" stroke-width="1.25" stroke-linecap="round" stroke-linejoin="round"/>
<clipPath id="cc2"><path d="M487.70,70.80 C487.86,70.80 488.90,70.48 489.30,70.80 C489.70,71.12 491.32,73.68 491.70,74.00 C492.08,74.32 492.72,73.59 493.10,74.00 C493.48,74.41 495.11,77.69 495.50,78.10 C495.89,78.51 496.61,77.78 497.00,78.10 C497.39,78.42 499.00,80.98 499.40,81.30 C499.80,81.62 500.60,81.02 501.00,81.30 C501.40,81.58 502.90,83.82 503.40,84.10 C503.90,84.38 505.74,84.10 506.00,84.10 L508.00,84.10 L508.00,50.50 L506.00,50.50 L506.00,50.50 C505.74,50.50 503.90,50.25 503.40,50.50 C502.90,50.75 501.40,52.75 501.00,53.00 C500.60,53.25 499.80,52.76 499.40,53.00 C499.00,53.24 497.39,55.16 497.00,55.40 C496.61,55.64 495.89,55.16 495.50,55.40 C495.11,55.64 493.48,57.56 493.10,57.80 C492.72,58.04 492.08,57.55 491.70,57.80 C491.32,58.05 489.70,60.05 489.30,60.30 C488.90,60.55 487.86,60.30 487.70,60.30 L484.80,60.30 L484.80,70.80 Z"/></clipPath>
<g clip-path="url(#cc2)">
<rect x="486.80" y="44.50" width="3.70" height="45.60" fill="#f68c4e" stroke="#4a4a4a" stroke-width="0.5"/>
<rect x="490.50" y="44.50" width="3.80" height="45.60" fill="#fce38c" stroke="#4a4a4a" stroke-width="0.5"/>
<rect x="494.30" y="44.50" width="3.90" height="45.60" fill="#def5f9" stroke="#4a4a4a" stroke-width="0.5"/>
<rect x="498.20" y="44.50" width="4.00" height="45.60" fill="#7ec3e7" stroke="#4a4a4a" stroke-width="0.5"/>
<rect x="502.20" y="44.50" width="3.80" height="45.60" fill="#1b73ba" stroke="#4a4a4a" stroke-width="0.5"/>
</g>
<path d="M487.70,60.30 C487.86,60.30 488.90,60.55 489.30,60.30 C489.70,60.05 491.32,58.05 491.70,57.80 C492.08,57.55 492.72,58.04 493.10,57.80 C493.48,57.56 495.11,55.64 495.50,55.40 C495.89,55.16 496.61,55.64 497.00,55.40 C497.39,55.16 499.00,53.24 499.40,53.00 C499.80,52.76 500.60,53.25 501.00,53.00 C501.40,52.75 502.90,50.75 503.40,50.50 C503.90,50.25 505.74,50.50 506.00,50.50" fill="none" stroke="#000" stroke-width="1.25" stroke-linecap="round" stroke-linejoin="round"/>
<path d="M487.70,70.80 C487.86,70.80 488.90,70.48 489.30,70.80 C489.70,71.12 491.32,73.68 491.70,74.00 C492.08,74.32 492.72,73.59 493.10,74.00 C493.48,74.41 495.11,77.69 495.50,78.10 C495.89,78.51 496.61,77.78 497.00,78.10 C497.39,78.42 499.00,80.98 499.40,81.30 C499.80,81.62 500.60,81.02 501.00,81.30 C501.40,81.58 502.90,83.82 503.40,84.10 C503.90,84.38 505.74,84.10 506.00,84.10" fill="none" stroke="#000" stroke-width="1.25" stroke-linecap="round" stroke-linejoin="round"/>
<clipPath id="cc3"><path d="M520.00,66.50 C520.14,66.50 521.02,66.33 521.40,66.50 C521.78,66.67 523.42,68.03 523.80,68.20 C524.18,68.37 524.82,67.97 525.20,68.20 C525.58,68.43 527.20,70.27 527.60,70.50 C528.00,70.73 528.80,70.28 529.20,70.50 C529.60,70.72 531.20,72.48 531.60,72.70 C532.00,72.92 532.80,72.50 533.20,72.70 C533.60,72.90 535.11,74.50 535.60,74.70 C536.09,74.90 537.85,74.70 538.10,74.70 L540.10,74.70 L540.10,58.60 L538.10,58.60 L538.10,58.60 C537.85,58.60 536.09,58.49 535.60,58.60 C535.11,58.71 533.60,59.59 533.20,59.70 C532.80,59.81 532.00,59.58 531.60,59.70 C531.20,59.82 529.60,60.78 529.20,60.90 C528.80,61.02 528.00,60.79 527.60,60.90 C527.20,61.01 525.58,61.89 525.20,62.00 C524.82,62.11 524.18,61.89 523.80,62.00 C523.42,62.11 521.78,62.99 521.40,63.10 C521.02,63.21 520.14,63.10 520.00,63.10 L517.10,63.10 L517.10,66.50 Z"/></clipPath>
<g clip-path="url(#cc3)">
<rect x="519.10" y="52.60" width="3.50" height="28.10" fill="#f68c4e" stroke="#4a4a4a" stroke-width="0.5"/>
<rect x="522.60" y="52.60" width="3.80" height="28.10" fill="#fce38c" stroke="#4a4a4a" stroke-width="0.5"/>
<rect x="526.40" y="52.60" width="4.00" height="28.10" fill="#def5f9" stroke="#4a4a4a" stroke-width="0.5"/>
<rect x="530.40" y="52.60" width="4.00" height="28.10" fill="#7ec3e7" stroke="#4a4a4a" stroke-width="0.5"/>
<rect x="534.40" y="52.60" width="3.70" height="28.10" fill="#1b73ba" stroke="#4a4a4a" stroke-width="0.5"/>
</g>
<path d="M520.00,63.10 C520.14,63.10 521.02,63.21 521.40,63.10 C521.78,62.99 523.42,62.11 523.80,62.00 C524.18,61.89 524.82,62.11 525.20,62.00 C525.58,61.89 527.20,61.01 527.60,60.90 C528.00,60.79 528.80,61.02 529.20,60.90 C529.60,60.78 531.20,59.82 531.60,59.70 C532.00,59.58 532.80,59.81 533.20,59.70 C533.60,59.59 535.11,58.71 535.60,58.60 C536.09,58.49 537.85,58.60 538.10,58.60" fill="none" stroke="#000" stroke-width="1.25" stroke-linecap="round" stroke-linejoin="round"/>
<path d="M520.00,66.50 C520.14,66.50 521.02,66.33 521.40,66.50 C521.78,66.67 523.42,68.03 523.80,68.20 C524.18,68.37 524.82,67.97 525.20,68.20 C525.58,68.43 527.20,70.27 527.60,70.50 C528.00,70.73 528.80,70.28 529.20,70.50 C529.60,70.72 531.20,72.48 531.60,72.70 C532.00,72.92 532.80,72.50 533.20,72.70 C533.60,72.90 535.11,74.50 535.60,74.70 C536.09,74.90 537.85,74.70 538.10,74.70" fill="none" stroke="#000" stroke-width="1.25" stroke-linecap="round" stroke-linejoin="round"/>
<line x1="414.4" y1="64.3" x2="544.3" y2="64.3" stroke="#464646" stroke-width="1"/>
<line x1="417.4" y1="5.8" x2="417.4" y2="116.3" stroke="#7a7a7a" stroke-width="1.1"/>
<line x1="416.9" y1="103.6" x2="544.3" y2="103.6" stroke="#3a3a3a" stroke-width="0.9"/>
<line x1="417.4" y1="116.3" x2="544.3" y2="116.3" stroke="#3a3a3a" stroke-width="0.9"/>
<line x1="544.3" y1="5.8" x2="544.3" y2="116.3" stroke="#858585" stroke-width="1"/>
<line x1="448.9" y1="103.6" x2="448.9" y2="116.3" stroke="#3a3a3a" stroke-width="0.9"/>
<line x1="480.5" y1="103.6" x2="480.5" y2="116.3" stroke="#3a3a3a" stroke-width="0.9"/>
<line x1="512.5" y1="103.6" x2="512.5" y2="116.3" stroke="#3a3a3a" stroke-width="0.9"/>
<text class="tb" x="433.15" y="112.66" font-size="8.2" text-anchor="middle">5</text>
<text class="tb" x="464.70" y="112.66" font-size="8.2" text-anchor="middle">20</text>
<text class="tb" x="496.50" y="112.66" font-size="8.2" text-anchor="middle">35</text>
<text class="tb" x="528.40" y="112.66" font-size="8.2" text-anchor="middle">55</text>
<line x1="414.7" y1="64.30" x2="417.4" y2="64.30" stroke="#333" stroke-width="0.8"/>
<line x1="415.9" y1="56.99" x2="417.4" y2="56.99" stroke="#333" stroke-width="0.8"/>
<text class="tk" transform="translate(412.6,66.80) scale(1.123,1)" text-anchor="end">0</text>
<line x1="414.7" y1="49.68" x2="417.4" y2="49.68" stroke="#333" stroke-width="0.8"/>
<line x1="415.9" y1="42.37" x2="417.4" y2="42.37" stroke="#333" stroke-width="0.8"/>
<text class="tk" transform="translate(412.6,52.18) scale(1.123,1)" text-anchor="end">5,000</text>
<line x1="414.7" y1="35.06" x2="417.4" y2="35.06" stroke="#333" stroke-width="0.8"/>
<line x1="415.9" y1="27.75" x2="417.4" y2="27.75" stroke="#333" stroke-width="0.8"/>
<text class="tk" transform="translate(412.6,37.56) scale(1.123,1)" text-anchor="end">10,000</text>
<line x1="414.7" y1="20.44" x2="417.4" y2="20.44" stroke="#333" stroke-width="0.8"/>
<line x1="415.9" y1="13.13" x2="417.4" y2="13.13" stroke="#333" stroke-width="0.8"/>
<text class="tk" transform="translate(412.6,22.94) scale(1.123,1)" text-anchor="end">15,000</text>
<line x1="414.7" y1="5.82" x2="417.4" y2="5.82" stroke="#333" stroke-width="0.8"/>
<text class="tk" transform="translate(412.6,8.32) scale(1.123,1)" text-anchor="end">20,000</text>
<line x1="414.7" y1="83.80" x2="417.4" y2="83.80" stroke="#333" stroke-width="0.8"/>
<line x1="414.7" y1="103.30" x2="417.4" y2="103.30" stroke="#333" stroke-width="0.8"/>
<line x1="415.9" y1="74.05" x2="417.4" y2="74.05" stroke="#333" stroke-width="0.8"/>
<line x1="415.9" y1="93.55" x2="417.4" y2="93.55" stroke="#333" stroke-width="0.8"/>
<text class="tk" transform="translate(412.6,86.30) scale(1.123,1)" text-anchor="end">2,000</text>
<text class="tk" transform="translate(412.6,105.80) scale(1.123,1)" text-anchor="end">4,000</text>
<text class="yl" transform="translate(386.8,54.35) rotate(-90)" x="0" y="0" text-anchor="middle" textLength="95.1" lengthAdjust="spacingAndGlyphs">Dynamic modules (MPa)</text>
<text class="ve" x="456.0" y="16.8" textLength="80.8" lengthAdjust="spacingAndGlyphs">Viscous components</text>
<text class="ve" x="454.5" y="102.0" textLength="78.2" lengthAdjust="spacingAndGlyphs" xml:space="preserve">Elastic  components</text>
<text class="tp" x="448.2" y="128.9" textLength="66.0" lengthAdjust="spacingAndGlyphs">Temperature (<tspan class="dg" dy="-0.9">°</tspan><tspan dy="0.9">C</tspan>)</text>
<text class="pl" x="461.75" y="146.6" text-anchor="middle">(<tspan font-weight="bold">c</tspan>)</text>
<rect x="43.4" y="165.7" width="126.80" height="96.80" fill="#fff" stroke="#858585" stroke-width="1"/>
<clipPath id="cd0"><path d="M50.70,256.60 C50.88,256.60 52.08,256.77 52.50,256.60 C52.92,256.43 54.51,255.07 54.90,254.90 C55.29,254.73 56.01,254.83 56.40,254.90 C56.79,254.97 58.44,255.53 58.80,255.60 C59.16,255.67 59.64,255.86 60.00,255.60 C60.36,255.34 62.01,253.26 62.40,253.00 C62.79,252.74 63.51,253.44 63.90,253.00 C64.29,252.56 65.81,249.04 66.30,248.60 C66.79,248.16 68.55,248.60 68.80,248.60 L70.80,248.60 L70.80,171.20 L68.80,171.20 L68.80,171.20 C68.55,171.20 66.79,170.72 66.30,171.20 C65.81,171.68 64.29,175.52 63.90,176.00 C63.51,176.48 62.79,175.61 62.40,176.00 C62.01,176.39 60.36,179.51 60.00,179.90 C59.64,180.29 59.16,179.06 58.80,179.90 C58.44,180.74 56.79,187.46 56.40,188.30 C56.01,189.14 55.29,186.94 54.90,188.30 C54.51,189.66 52.92,200.54 52.50,201.90 C52.08,203.26 50.88,201.90 50.70,201.90 L47.80,201.90 L47.80,256.60 Z"/></clipPath>
<g clip-path="url(#cd0)">
<rect x="49.80" y="165.20" width="3.90" height="97.40" fill="#f68c4e" stroke="#4a4a4a" stroke-width="0.5"/>
<rect x="53.70" y="165.20" width="3.90" height="97.40" fill="#fce38c" stroke="#4a4a4a" stroke-width="0.5"/>
<rect x="57.60" y="165.20" width="3.60" height="97.40" fill="#def5f9" stroke="#4a4a4a" stroke-width="0.5"/>
<rect x="61.20" y="165.20" width="3.90" height="97.40" fill="#7ec3e7" stroke="#4a4a4a" stroke-width="0.5"/>
<rect x="65.10" y="165.20" width="3.70" height="97.40" fill="#1b73ba" stroke="#4a4a4a" stroke-width="0.5"/>
</g>
<path d="M50.70,201.90 C50.88,201.90 52.08,203.26 52.50,201.90 C52.92,200.54 54.51,189.66 54.90,188.30 C55.29,186.94 56.01,189.14 56.40,188.30 C56.79,187.46 58.44,180.74 58.80,179.90 C59.16,179.06 59.64,180.29 60.00,179.90 C60.36,179.51 62.01,176.39 62.40,176.00 C62.79,175.61 63.51,176.48 63.90,176.00 C64.29,175.52 65.81,171.68 66.30,171.20 C66.79,170.72 68.55,171.20 68.80,171.20" fill="none" stroke="#000" stroke-width="1.25" stroke-linecap="round" stroke-linejoin="round"/>
<path d="M50.70,256.60 C50.88,256.60 52.08,256.77 52.50,256.60 C52.92,256.43 54.51,255.07 54.90,254.90 C55.29,254.73 56.01,254.83 56.40,254.90 C56.79,254.97 58.44,255.53 58.80,255.60 C59.16,255.67 59.64,255.86 60.00,255.60 C60.36,255.34 62.01,253.26 62.40,253.00 C62.79,252.74 63.51,253.44 63.90,253.00 C64.29,252.56 65.81,249.04 66.30,248.60 C66.79,248.16 68.55,248.60 68.80,248.60" fill="none" stroke="#000" stroke-width="1.25" stroke-linecap="round" stroke-linejoin="round"/>
<clipPath id="cd1"><path d="M82.70,236.20 C82.84,236.20 83.72,235.23 84.10,236.20 C84.48,237.17 86.11,244.93 86.50,245.90 C86.89,246.87 87.61,245.49 88.00,245.90 C88.39,246.31 90.04,249.59 90.40,250.00 C90.76,250.41 91.24,249.83 91.60,250.00 C91.96,250.17 93.61,251.53 94.00,251.70 C94.39,251.87 95.11,251.70 95.50,251.70 C95.89,251.70 97.39,251.70 97.90,251.70 C98.41,251.70 100.33,251.70 100.60,251.70 L102.60,251.70 L102.60,196.50 L100.60,196.50 L100.60,196.50 C100.33,196.50 98.41,195.86 97.90,196.50 C97.39,197.14 95.89,202.26 95.50,202.90 C95.11,203.54 94.39,202.57 94.00,202.90 C93.61,203.23 91.96,205.87 91.60,206.20 C91.24,206.53 90.76,205.56 90.40,206.20 C90.04,206.84 88.39,211.96 88.00,212.60 C87.61,213.24 86.89,211.99 86.50,212.60 C86.11,213.21 84.48,218.09 84.10,218.70 C83.72,219.31 82.84,218.70 82.70,218.70 L79.80,218.70 L79.80,236.20 Z"/></clipPath>
<g clip-path="url(#cd1)">
<rect x="81.80" y="190.50" width="3.50" height="67.20" fill="#f68c4e" stroke="#4a4a4a" stroke-width="0.5"/>
<rect x="85.30" y="190.50" width="3.90" height="67.20" fill="#fce38c" stroke="#4a4a4a" stroke-width="0.5"/>
<rect x="89.20" y="190.50" width="3.60" height="67.20" fill="#def5f9" stroke="#4a4a4a" stroke-width="0.5"/>
<rect x="92.80" y="190.50" width="3.90" height="67.20" fill="#7ec3e7" stroke="#4a4a4a" stroke-width="0.5"/>
<rect x="96.70" y="190.50" width="3.90" height="67.20" fill="#1b73ba" stroke="#4a4a4a" stroke-width="0.5"/>
</g>
<path d="M82.70,218.70 C82.84,218.70 83.72,219.31 84.10,218.70 C84.48,218.09 86.11,213.21 86.50,212.60 C86.89,211.99 87.61,213.24 88.00,212.60 C88.39,211.96 90.04,206.84 90.40,206.20 C90.76,205.56 91.24,206.53 91.60,206.20 C91.96,205.87 93.61,203.23 94.00,202.90 C94.39,202.57 95.11,203.54 95.50,202.90 C95.89,202.26 97.39,197.14 97.90,196.50 C98.41,195.86 100.33,196.50 100.60,196.50" fill="none" stroke="#000" stroke-width="1.25" stroke-linecap="round" stroke-linejoin="round"/>
<path d="M82.70,236.20 C82.84,236.20 83.72,235.23 84.10,236.20 C84.48,237.17 86.11,244.93 86.50,245.90 C86.89,246.87 87.61,245.49 88.00,245.90 C88.39,246.31 90.04,249.59 90.40,250.00 C90.76,250.41 91.24,249.83 91.60,250.00 C91.96,250.17 93.61,251.53 94.00,251.70 C94.39,251.87 95.11,251.70 95.50,251.70 C95.89,251.70 97.39,251.70 97.90,251.70 C98.41,251.70 100.33,251.70 100.60,251.70" fill="none" stroke="#000" stroke-width="1.25" stroke-linecap="round" stroke-linejoin="round"/>
<clipPath id="cd2"><path d="M114.10,225.40 C114.26,225.40 115.30,225.05 115.70,225.40 C116.10,225.75 117.71,228.55 118.10,228.90 C118.49,229.25 119.21,228.38 119.60,228.90 C119.99,229.42 121.62,233.58 122.00,234.10 C122.38,234.62 123.02,233.62 123.40,234.10 C123.78,234.58 125.42,238.42 125.80,238.90 C126.18,239.38 126.82,238.48 127.20,238.90 C127.58,239.32 129.06,242.68 129.60,243.10 C130.14,243.52 132.30,243.10 132.60,243.10 L134.60,243.10 L134.60,214.70 L132.60,214.70 L132.60,214.70 C132.30,214.70 130.14,214.40 129.60,214.70 C129.06,215.00 127.58,217.40 127.20,217.70 C126.82,218.00 126.18,217.52 125.80,217.70 C125.42,217.88 123.78,219.32 123.40,219.50 C123.02,219.68 122.38,219.29 122.00,219.50 C121.62,219.71 119.99,221.39 119.60,221.60 C119.21,221.81 118.49,221.46 118.10,221.60 C117.71,221.74 116.10,222.86 115.70,223.00 C115.30,223.14 114.26,223.00 114.10,223.00 L111.20,223.00 L111.20,225.40 Z"/></clipPath>
<g clip-path="url(#cd2)">
<rect x="113.20" y="208.70" width="3.70" height="40.40" fill="#f68c4e" stroke="#4a4a4a" stroke-width="0.5"/>
<rect x="116.90" y="208.70" width="3.90" height="40.40" fill="#fce38c" stroke="#4a4a4a" stroke-width="0.5"/>
<rect x="120.80" y="208.70" width="3.80" height="40.40" fill="#def5f9" stroke="#4a4a4a" stroke-width="0.5"/>
<rect x="124.60" y="208.70" width="3.80" height="40.40" fill="#7ec3e7" stroke="#4a4a4a" stroke-width="0.5"/>
<rect x="128.40" y="208.70" width="4.20" height="40.40" fill="#1b73ba" stroke="#4a4a4a" stroke-width="0.5"/>
</g>
<path d="M114.10,223.00 C114.26,223.00 115.30,223.14 115.70,223.00 C116.10,222.86 117.71,221.74 118.10,221.60 C118.49,221.46 119.21,221.81 119.60,221.60 C119.99,221.39 121.62,219.71 122.00,219.50 C122.38,219.29 123.02,219.68 123.40,219.50 C123.78,219.32 125.42,217.88 125.80,217.70 C126.18,217.52 126.82,218.00 127.20,217.70 C127.58,217.40 129.06,215.00 129.60,214.70 C130.14,214.40 132.30,214.70 132.60,214.70" fill="none" stroke="#000" stroke-width="1.25" stroke-linecap="round" stroke-linejoin="round"/>
<path d="M114.10,225.40 C114.26,225.40 115.30,225.05 115.70,225.40 C116.10,225.75 117.71,228.55 118.10,228.90 C118.49,229.25 119.21,228.38 119.60,228.90 C119.99,229.42 121.62,233.58 122.00,234.10 C122.38,234.62 123.02,233.62 123.40,234.10 C123.78,234.58 125.42,238.42 125.80,238.90 C126.18,239.38 126.82,238.48 127.20,238.90 C127.58,239.32 129.06,242.68 129.60,243.10 C130.14,243.52 132.30,243.10 132.60,243.10" fill="none" stroke="#000" stroke-width="1.25" stroke-linecap="round" stroke-linejoin="round"/>
<clipPath id="cd3"><path d="M145.90,223.90 C146.07,223.90 147.19,223.85 147.60,223.90 C148.01,223.95 149.62,224.35 150.00,224.40 C150.38,224.45 151.02,224.29 151.40,224.40 C151.78,224.51 153.41,225.39 153.80,225.50 C154.19,225.61 154.91,225.30 155.30,225.50 C155.69,225.70 157.31,227.30 157.70,227.50 C158.09,227.70 158.81,227.26 159.20,227.50 C159.59,227.74 161.09,229.66 161.60,229.90 C162.11,230.14 164.03,229.90 164.30,229.90 L166.30,229.90 L166.30,221.70 L164.30,221.70 L164.30,221.70 C164.03,221.70 162.11,221.64 161.60,221.70 C161.09,221.76 159.59,222.24 159.20,222.30 C158.81,222.36 158.09,222.24 157.70,222.30 C157.31,222.36 155.69,222.84 155.30,222.90 C154.91,222.96 154.19,222.87 153.80,222.90 C153.41,222.93 151.78,223.17 151.40,223.20 C151.02,223.23 150.38,223.19 150.00,223.20 C149.62,223.21 148.01,223.29 147.60,223.30 C147.19,223.31 146.07,223.30 145.90,223.30 L143.00,223.30 L143.00,223.90 Z"/></clipPath>
<g clip-path="url(#cd3)">
<rect x="145.00" y="215.70" width="3.80" height="20.20" fill="#f68c4e" stroke="#4a4a4a" stroke-width="0.5"/>
<rect x="148.80" y="215.70" width="3.80" height="20.20" fill="#fce38c" stroke="#4a4a4a" stroke-width="0.5"/>
<rect x="152.60" y="215.70" width="3.90" height="20.20" fill="#def5f9" stroke="#4a4a4a" stroke-width="0.5"/>
<rect x="156.50" y="215.70" width="3.90" height="20.20" fill="#7ec3e7" stroke="#4a4a4a" stroke-width="0.5"/>
<rect x="160.40" y="215.70" width="3.90" height="20.20" fill="#1b73ba" stroke="#4a4a4a" stroke-width="0.5"/>
</g>
<path d="M145.90,223.30 C146.07,223.30 147.19,223.31 147.60,223.30 C148.01,223.29 149.62,223.21 150.00,223.20 C150.38,223.19 151.02,223.23 151.40,223.20 C151.78,223.17 153.41,222.93 153.80,222.90 C154.19,222.87 154.91,222.96 155.30,222.90 C155.69,222.84 157.31,222.36 157.70,222.30 C158.09,222.24 158.81,222.36 159.20,222.30 C159.59,222.24 161.09,221.76 161.60,221.70 C162.11,221.64 164.03,221.70 164.30,221.70" fill="none" stroke="#000" stroke-width="1.25" stroke-linecap="round" stroke-linejoin="round"/>
<path d="M145.90,223.90 C146.07,223.90 147.19,223.85 147.60,223.90 C148.01,223.95 149.62,224.35 150.00,224.40 C150.38,224.45 151.02,224.29 151.40,224.40 C151.78,224.51 153.41,225.39 153.80,225.50 C154.19,225.61 154.91,225.30 155.30,225.50 C155.69,225.70 157.31,227.30 157.70,227.50 C158.09,227.70 158.81,227.26 159.20,227.50 C159.59,227.74 161.09,229.66 161.60,229.90 C162.11,230.14 164.03,229.90 164.30,229.90" fill="none" stroke="#000" stroke-width="1.25" stroke-linecap="round" stroke-linejoin="round"/>
<line x1="40.4" y1="223.5" x2="170.2" y2="223.5" stroke="#464646" stroke-width="1"/>
<line x1="43.4" y1="165.7" x2="43.4" y2="275.8" stroke="#7a7a7a" stroke-width="1.1"/>
<line x1="42.9" y1="262.5" x2="170.2" y2="262.5" stroke="#3a3a3a" stroke-width="0.9"/>
<line x1="43.4" y1="275.8" x2="170.2" y2="275.8" stroke="#3a3a3a" stroke-width="0.9"/>
<line x1="170.2" y1="165.7" x2="170.2" y2="275.8" stroke="#858585" stroke-width="1"/>
<line x1="75.3" y1="262.5" x2="75.3" y2="275.8" stroke="#3a3a3a" stroke-width="0.9"/>
<line x1="106.9" y1="262.5" x2="106.9" y2="275.8" stroke="#3a3a3a" stroke-width="0.9"/>
<line x1="138.4" y1="262.5" x2="138.4" y2="275.8" stroke="#3a3a3a" stroke-width="0.9"/>
<text class="tb" x="59.35" y="271.89" font-size="8.3" text-anchor="middle">5</text>
<text class="tb" x="91.10" y="271.89" font-size="8.3" text-anchor="middle">20</text>
<text class="tb" x="122.65" y="271.89" font-size="8.3" text-anchor="middle">35</text>
<text class="tb" x="154.30" y="271.89" font-size="8.3" text-anchor="middle">55</text>
<line x1="40.699999999999996" y1="223.50" x2="43.4" y2="223.50" stroke="#333" stroke-width="0.8"/>
<line x1="41.9" y1="218.34" x2="43.4" y2="218.34" stroke="#333" stroke-width="0.8"/>
<text class="tk" transform="translate(38.6,226.00) scale(1.096,1)" text-anchor="end">0</text>
<line x1="40.699999999999996" y1="213.17" x2="43.4" y2="213.17" stroke="#333" stroke-width="0.8"/>
<line x1="41.9" y1="208.00" x2="43.4" y2="208.00" stroke="#333" stroke-width="0.8"/>
<text class="tk" transform="translate(38.6,215.67) scale(1.096,1)" text-anchor="end">5,000</text>
<line x1="40.699999999999996" y1="202.84" x2="43.4" y2="202.84" stroke="#333" stroke-width="0.8"/>
<line x1="41.9" y1="197.68" x2="43.4" y2="197.68" stroke="#333" stroke-width="0.8"/>
<text class="tk" transform="translate(38.6,205.34) scale(1.096,1)" text-anchor="end">10,000</text>
<line x1="40.699999999999996" y1="192.51" x2="43.4" y2="192.51" stroke="#333" stroke-width="0.8"/>
<line x1="41.9" y1="187.34" x2="43.4" y2="187.34" stroke="#333" stroke-width="0.8"/>
<text class="tk" transform="translate(38.6,195.01) scale(1.096,1)" text-anchor="end">15,000</text>
<line x1="40.699999999999996" y1="182.18" x2="43.4" y2="182.18" stroke="#333" stroke-width="0.8"/>
<line x1="41.9" y1="177.02" x2="43.4" y2="177.02" stroke="#333" stroke-width="0.8"/>
<text class="tk" transform="translate(38.6,184.68) scale(1.096,1)" text-anchor="end">20,000</text>
<line x1="40.699999999999996" y1="171.85" x2="43.4" y2="171.85" stroke="#333" stroke-width="0.8"/>
<text class="tk" transform="translate(38.6,174.35) scale(1.096,1)" text-anchor="end">25,000</text>
<line x1="40.699999999999996" y1="239.20" x2="43.4" y2="239.20" stroke="#333" stroke-width="0.8"/>
<line x1="40.699999999999996" y1="254.90" x2="43.4" y2="254.90" stroke="#333" stroke-width="0.8"/>
<line x1="41.9" y1="231.35" x2="43.4" y2="231.35" stroke="#333" stroke-width="0.8"/>
<line x1="41.9" y1="247.05" x2="43.4" y2="247.05" stroke="#333" stroke-width="0.8"/>
<text class="tk" transform="translate(38.6,241.70) scale(1.096,1)" text-anchor="end">2,000</text>
<text class="tk" transform="translate(38.6,257.40) scale(1.096,1)" text-anchor="end">4,000</text>
<text class="yl" transform="translate(14.1,213.45) rotate(-90)" x="0" y="0" text-anchor="middle" textLength="95.1" lengthAdjust="spacingAndGlyphs">Dynamic modules (MPa)</text>
<text class="ve" x="80.8" y="175.6" textLength="82.4" lengthAdjust="spacingAndGlyphs">Viscous components</text>
<text class="ve" x="80.0" y="261.1" textLength="78.6" lengthAdjust="spacingAndGlyphs" xml:space="preserve">Elastic  components</text>
<text class="tp" x="74.6" y="287.6" textLength="66.0" lengthAdjust="spacingAndGlyphs">Temperature (<tspan class="dg" dy="-0.9">°</tspan><tspan dy="0.9">C</tspan>)</text>
<text class="tp" x="3.9" y="160.9" textLength="66.3" lengthAdjust="spacingAndGlyphs">Temperature (<tspan class="dg" dy="-0.9">°</tspan><tspan dy="0.9">C</tspan>)</text>
<text class="pl" x="88.00" y="305.0" text-anchor="middle" font-weight="bold">(<tspan font-weight="bold">d</tspan>)</text>
<rect x="231.0" y="166.1" width="127.40" height="97.40" fill="#fff" stroke="#858585" stroke-width="1"/>
<clipPath id="ce0"><path d="M238.30,250.60 C238.46,250.60 239.50,250.64 239.90,250.60 C240.30,250.56 241.92,250.24 242.30,250.20 C242.68,250.16 243.32,250.23 243.70,250.20 C244.08,250.17 245.73,249.93 246.10,249.90 C246.47,249.87 247.03,250.00 247.40,249.90 C247.77,249.80 249.42,249.00 249.80,248.90 C250.18,248.80 250.82,249.29 251.20,248.90 C251.58,248.51 253.06,245.39 253.60,245.00 C254.14,244.61 256.30,245.00 256.60,245.00 L258.60,245.00 L258.60,171.50 L256.60,171.50 L256.60,171.50 C256.30,171.50 254.14,171.12 253.60,171.50 C253.06,171.88 251.58,174.92 251.20,175.30 C250.82,175.68 250.18,174.91 249.80,175.30 C249.42,175.69 247.77,178.81 247.40,179.20 C247.03,179.59 246.47,178.36 246.10,179.20 C245.73,180.04 244.08,186.76 243.70,187.60 C243.32,188.44 242.68,186.37 242.30,187.60 C241.92,188.83 240.30,198.67 239.90,199.90 C239.50,201.13 238.46,199.90 238.30,199.90 L235.40,199.90 L235.40,250.60 Z"/></clipPath>
<g clip-path="url(#ce0)">
<rect x="237.40" y="165.50" width="3.70" height="91.10" fill="#f68c4e" stroke="#4a4a4a" stroke-width="0.5"/>
<rect x="241.10" y="165.50" width="3.80" height="91.10" fill="#fce38c" stroke="#4a4a4a" stroke-width="0.5"/>
<rect x="244.90" y="165.50" width="3.70" height="91.10" fill="#def5f9" stroke="#4a4a4a" stroke-width="0.5"/>
<rect x="248.60" y="165.50" width="3.80" height="91.10" fill="#7ec3e7" stroke="#4a4a4a" stroke-width="0.5"/>
<rect x="252.40" y="165.50" width="4.20" height="91.10" fill="#1b73ba" stroke="#4a4a4a" stroke-width="0.5"/>
</g>
<path d="M238.30,199.90 C238.46,199.90 239.50,201.13 239.90,199.90 C240.30,198.67 241.92,188.83 242.30,187.60 C242.68,186.37 243.32,188.44 243.70,187.60 C244.08,186.76 245.73,180.04 246.10,179.20 C246.47,178.36 247.03,179.59 247.40,179.20 C247.77,178.81 249.42,175.69 249.80,175.30 C250.18,174.91 250.82,175.68 251.20,175.30 C251.58,174.92 253.06,171.88 253.60,171.50 C254.14,171.12 256.30,171.50 256.60,171.50" fill="none" stroke="#000" stroke-width="1.25" stroke-linecap="round" stroke-linejoin="round"/>
<path d="M238.30,250.60 C238.46,250.60 239.50,250.64 239.90,250.60 C240.30,250.56 241.92,250.24 242.30,250.20 C242.68,250.16 243.32,250.23 243.70,250.20 C244.08,250.17 245.73,249.93 246.10,249.90 C246.47,249.87 247.03,250.00 247.40,249.90 C247.77,249.80 249.42,249.00 249.80,248.90 C250.18,248.80 250.82,249.29 251.20,248.90 C251.58,248.51 253.06,245.39 253.60,245.00 C254.14,244.61 256.30,245.00 256.60,245.00" fill="none" stroke="#000" stroke-width="1.25" stroke-linecap="round" stroke-linejoin="round"/>
<clipPath id="ce1"><path d="M270.10,236.80 C270.28,236.80 271.48,236.00 271.90,236.80 C272.32,237.60 273.92,244.00 274.30,244.80 C274.68,245.60 275.32,244.41 275.70,244.80 C276.08,245.19 277.73,248.31 278.10,248.70 C278.47,249.09 279.03,248.40 279.40,248.70 C279.77,249.00 281.42,251.40 281.80,251.70 C282.18,252.00 282.82,251.96 283.20,251.70 C283.58,251.44 285.06,249.36 285.60,249.10 C286.14,248.84 288.30,249.10 288.60,249.10 L290.60,249.10 L290.60,194.30 L288.60,194.30 L288.60,194.30 C288.30,194.30 286.14,193.74 285.60,194.30 C285.06,194.86 283.58,199.34 283.20,199.90 C282.82,200.46 282.18,199.48 281.80,199.90 C281.42,200.32 279.77,203.68 279.40,204.10 C279.03,204.52 278.47,203.42 278.10,204.10 C277.73,204.78 276.08,210.22 275.70,210.90 C275.32,211.58 274.68,210.15 274.30,210.90 C273.92,211.65 272.32,217.65 271.90,218.40 C271.48,219.15 270.28,218.40 270.10,218.40 L267.20,218.40 L267.20,236.80 Z"/></clipPath>
<g clip-path="url(#ce1)">
<rect x="269.20" y="188.30" width="3.90" height="69.40" fill="#f68c4e" stroke="#4a4a4a" stroke-width="0.5"/>
<rect x="273.10" y="188.30" width="3.80" height="69.40" fill="#fce38c" stroke="#4a4a4a" stroke-width="0.5"/>
<rect x="276.90" y="188.30" width="3.70" height="69.40" fill="#def5f9" stroke="#4a4a4a" stroke-width="0.5"/>
<rect x="280.60" y="188.30" width="3.80" height="69.40" fill="#7ec3e7" stroke="#4a4a4a" stroke-width="0.5"/>
<rect x="284.40" y="188.30" width="4.20" height="69.40" fill="#1b73ba" stroke="#4a4a4a" stroke-width="0.5"/>
</g>
<path d="M270.10,218.40 C270.28,218.40 271.48,219.15 271.90,218.40 C272.32,217.65 273.92,211.65 274.30,210.90 C274.68,210.15 275.32,211.58 275.70,210.90 C276.08,210.22 277.73,204.78 278.10,204.10 C278.47,203.42 279.03,204.52 279.40,204.10 C279.77,203.68 281.42,200.32 281.80,199.90 C282.18,199.48 282.82,200.46 283.20,199.90 C283.58,199.34 285.06,194.86 285.60,194.30 C286.14,193.74 288.30,194.30 288.60,194.30" fill="none" stroke="#000" stroke-width="1.25" stroke-linecap="round" stroke-linejoin="round"/>
<path d="M270.10,236.80 C270.28,236.80 271.48,236.00 271.90,236.80 C272.32,237.60 273.92,244.00 274.30,244.80 C274.68,245.60 275.32,244.41 275.70,244.80 C276.08,245.19 277.73,248.31 278.10,248.70 C278.47,249.09 279.03,248.40 279.40,248.70 C279.77,249.00 281.42,251.40 281.80,251.70 C282.18,252.00 282.82,251.96 283.20,251.70 C283.58,251.44 285.06,249.36 285.60,249.10 C286.14,248.84 288.30,249.10 288.60,249.10" fill="none" stroke="#000" stroke-width="1.25" stroke-linecap="round" stroke-linejoin="round"/>
<clipPath id="ce2"><path d="M301.60,226.30 C301.75,226.30 302.71,225.91 303.10,226.30 C303.49,226.69 305.11,229.81 305.50,230.20 C305.89,230.59 306.61,229.75 307.00,230.20 C307.39,230.65 309.01,234.25 309.40,234.70 C309.79,235.15 310.51,234.33 310.90,234.70 C311.29,235.07 312.91,238.03 313.30,238.40 C313.69,238.77 314.41,238.14 314.80,238.40 C315.19,238.66 316.65,240.74 317.20,241.00 C317.75,241.26 319.99,241.00 320.30,241.00 L322.30,241.00 L322.30,213.80 L320.30,213.80 L320.30,213.80 C319.99,213.80 317.75,213.45 317.20,213.80 C316.65,214.15 315.19,216.95 314.80,217.30 C314.41,217.65 313.69,217.08 313.30,217.30 C312.91,217.52 311.29,219.28 310.90,219.50 C310.51,219.72 309.79,219.29 309.40,219.50 C309.01,219.71 307.39,221.39 307.00,221.60 C306.61,221.81 305.89,221.45 305.50,221.60 C305.11,221.75 303.49,222.95 303.10,223.10 C302.71,223.25 301.75,223.10 301.60,223.10 L298.70,223.10 L298.70,226.30 Z"/></clipPath>
<g clip-path="url(#ce2)">
<rect x="300.70" y="207.80" width="3.60" height="39.20" fill="#f68c4e" stroke="#4a4a4a" stroke-width="0.5"/>
<rect x="304.30" y="207.80" width="3.90" height="39.20" fill="#fce38c" stroke="#4a4a4a" stroke-width="0.5"/>
<rect x="308.20" y="207.80" width="3.90" height="39.20" fill="#def5f9" stroke="#4a4a4a" stroke-width="0.5"/>
<rect x="312.10" y="207.80" width="3.90" height="39.20" fill="#7ec3e7" stroke="#4a4a4a" stroke-width="0.5"/>
<rect x="316.00" y="207.80" width="4.30" height="39.20" fill="#1b73ba" stroke="#4a4a4a" stroke-width="0.5"/>
</g>
<path d="M301.60,223.10 C301.75,223.10 302.71,223.25 303.10,223.10 C303.49,222.95 305.11,221.75 305.50,221.60 C305.89,221.45 306.61,221.81 307.00,221.60 C307.39,221.39 309.01,219.71 309.40,219.50 C309.79,219.29 310.51,219.72 310.90,219.50 C311.29,219.28 312.91,217.52 313.30,217.30 C313.69,217.08 314.41,217.65 314.80,217.30 C315.19,216.95 316.65,214.15 317.20,213.80 C317.75,213.45 319.99,213.80 320.30,213.80" fill="none" stroke="#000" stroke-width="1.25" stroke-linecap="round" stroke-linejoin="round"/>
<path d="M301.60,226.30 C301.75,226.30 302.71,225.91 303.10,226.30 C303.49,226.69 305.11,229.81 305.50,230.20 C305.89,230.59 306.61,229.75 307.00,230.20 C307.39,230.65 309.01,234.25 309.40,234.70 C309.79,235.15 310.51,234.33 310.90,234.70 C311.29,235.07 312.91,238.03 313.30,238.40 C313.69,238.77 314.41,238.14 314.80,238.40 C315.19,238.66 316.65,240.74 317.20,241.00 C317.75,241.26 319.99,241.00 320.30,241.00" fill="none" stroke="#000" stroke-width="1.25" stroke-linecap="round" stroke-linejoin="round"/>
<clipPath id="ce3"><path d="M333.20,224.80 C333.38,224.80 334.58,224.72 335.00,224.80 C335.42,224.88 337.01,225.52 337.40,225.60 C337.79,225.68 338.51,225.50 338.90,225.60 C339.29,225.70 340.91,226.50 341.30,226.60 C341.69,226.70 342.41,226.41 342.80,226.60 C343.19,226.79 344.80,228.31 345.20,228.50 C345.60,228.69 346.40,228.31 346.80,228.50 C347.20,228.69 348.68,230.21 349.20,230.40 C349.72,230.59 351.72,230.40 352.00,230.40 L354.00,230.40 L354.00,221.50 L352.00,221.50 L352.00,221.50 C351.72,221.50 349.72,221.42 349.20,221.50 C348.68,221.58 347.20,222.22 346.80,222.30 C346.40,222.38 345.60,222.25 345.20,222.30 C344.80,222.35 343.19,222.75 342.80,222.80 C342.41,222.85 341.69,222.72 341.30,222.80 C340.91,222.88 339.29,223.52 338.90,223.60 C338.51,223.68 337.79,223.56 337.40,223.60 C337.01,223.64 335.42,223.96 335.00,224.00 C334.58,224.04 333.38,224.00 333.20,224.00 L330.30,224.00 L330.30,224.80 Z"/></clipPath>
<g clip-path="url(#ce3)">
<rect x="332.30" y="215.50" width="3.90" height="20.90" fill="#f68c4e" stroke="#4a4a4a" stroke-width="0.5"/>
<rect x="336.20" y="215.50" width="3.90" height="20.90" fill="#fce38c" stroke="#4a4a4a" stroke-width="0.5"/>
<rect x="340.10" y="215.50" width="3.90" height="20.90" fill="#def5f9" stroke="#4a4a4a" stroke-width="0.5"/>
<rect x="344.00" y="215.50" width="4.00" height="20.90" fill="#7ec3e7" stroke="#4a4a4a" stroke-width="0.5"/>
<rect x="348.00" y="215.50" width="4.00" height="20.90" fill="#1b73ba" stroke="#4a4a4a" stroke-width="0.5"/>
</g>
<path d="M333.20,224.00 C333.38,224.00 334.58,224.04 335.00,224.00 C335.42,223.96 337.01,223.64 337.40,223.60 C337.79,223.56 338.51,223.68 338.90,223.60 C339.29,223.52 340.91,222.88 341.30,222.80 C341.69,222.72 342.41,222.85 342.80,222.80 C343.19,222.75 344.80,222.35 345.20,222.30 C345.60,222.25 346.40,222.38 346.80,222.30 C347.20,222.22 348.68,221.58 349.20,221.50 C349.72,221.42 351.72,221.50 352.00,221.50" fill="none" stroke="#000" stroke-width="1.25" stroke-linecap="round" stroke-linejoin="round"/>
<path d="M333.20,224.80 C333.38,224.80 334.58,224.72 335.00,224.80 C335.42,224.88 337.01,225.52 337.40,225.60 C337.79,225.68 338.51,225.50 338.90,225.60 C339.29,225.70 340.91,226.50 341.30,226.60 C341.69,226.70 342.41,226.41 342.80,226.60 C343.19,226.79 344.80,228.31 345.20,228.50 C345.60,228.69 346.40,228.31 346.80,228.50 C347.20,228.69 348.68,230.21 349.20,230.40 C349.72,230.59 351.72,230.40 352.00,230.40" fill="none" stroke="#000" stroke-width="1.25" stroke-linecap="round" stroke-linejoin="round"/>
<line x1="228.0" y1="224.5" x2="358.4" y2="224.5" stroke="#464646" stroke-width="1"/>
<line x1="231.0" y1="166.1" x2="231.0" y2="276.2" stroke="#7a7a7a" stroke-width="1.1"/>
<line x1="230.5" y1="263.5" x2="358.4" y2="263.5" stroke="#3a3a3a" stroke-width="0.9"/>
<line x1="231.0" y1="276.2" x2="358.4" y2="276.2" stroke="#3a3a3a" stroke-width="0.9"/>
<line x1="358.4" y1="166.1" x2="358.4" y2="276.2" stroke="#858585" stroke-width="1"/>
<line x1="262.9" y1="263.5" x2="262.9" y2="276.2" stroke="#3a3a3a" stroke-width="0.9"/>
<line x1="294.8" y1="263.5" x2="294.8" y2="276.2" stroke="#3a3a3a" stroke-width="0.9"/>
<line x1="326.7" y1="263.5" x2="326.7" y2="276.2" stroke="#3a3a3a" stroke-width="0.9"/>
<text class="tb" x="246.95" y="272.56" font-size="8.2" text-anchor="middle">5</text>
<text class="tb" x="278.85" y="272.56" font-size="8.2" text-anchor="middle">20</text>
<text class="tb" x="310.75" y="272.56" font-size="8.2" text-anchor="middle">35</text>
<text class="tb" x="342.55" y="272.56" font-size="8.2" text-anchor="middle">55</text>
<line x1="228.3" y1="224.50" x2="231.0" y2="224.50" stroke="#333" stroke-width="0.8"/>
<line x1="229.5" y1="219.27" x2="231.0" y2="219.27" stroke="#333" stroke-width="0.8"/>
<text class="tk" transform="translate(225.7,227.00) scale(1.096,1)" text-anchor="end">0</text>
<line x1="228.3" y1="214.04" x2="231.0" y2="214.04" stroke="#333" stroke-width="0.8"/>
<line x1="229.5" y1="208.81" x2="231.0" y2="208.81" stroke="#333" stroke-width="0.8"/>
<text class="tk" transform="translate(225.7,216.54) scale(1.096,1)" text-anchor="end">5,000</text>
<line x1="228.3" y1="203.58" x2="231.0" y2="203.58" stroke="#333" stroke-width="0.8"/>
<line x1="229.5" y1="198.35" x2="231.0" y2="198.35" stroke="#333" stroke-width="0.8"/>
<text class="tk" transform="translate(225.7,206.08) scale(1.096,1)" text-anchor="end">10,000</text>
<line x1="228.3" y1="193.12" x2="231.0" y2="193.12" stroke="#333" stroke-width="0.8"/>
<line x1="229.5" y1="187.89" x2="231.0" y2="187.89" stroke="#333" stroke-width="0.8"/>
<text class="tk" transform="translate(225.7,195.62) scale(1.096,1)" text-anchor="end">15,000</text>
<line x1="228.3" y1="182.66" x2="231.0" y2="182.66" stroke="#333" stroke-width="0.8"/>
<line x1="229.5" y1="177.43" x2="231.0" y2="177.43" stroke="#333" stroke-width="0.8"/>
<text class="tk" transform="translate(225.7,185.16) scale(1.096,1)" text-anchor="end">20,000</text>
<line x1="228.3" y1="172.20" x2="231.0" y2="172.20" stroke="#333" stroke-width="0.8"/>
<text class="tk" transform="translate(225.7,174.70) scale(1.096,1)" text-anchor="end">25,000</text>
<line x1="228.3" y1="237.30" x2="231.0" y2="237.30" stroke="#333" stroke-width="0.8"/>
<line x1="228.3" y1="250.10" x2="231.0" y2="250.10" stroke="#333" stroke-width="0.8"/>
<line x1="228.3" y1="262.90" x2="231.0" y2="262.90" stroke="#333" stroke-width="0.8"/>
<line x1="229.5" y1="230.90" x2="231.0" y2="230.90" stroke="#333" stroke-width="0.8"/>
<line x1="229.5" y1="243.70" x2="231.0" y2="243.70" stroke="#333" stroke-width="0.8"/>
<line x1="229.5" y1="256.50" x2="231.0" y2="256.50" stroke="#333" stroke-width="0.8"/>
<text class="tk" transform="translate(225.7,239.80) scale(1.096,1)" text-anchor="end">2,000</text>
<text class="tk" transform="translate(225.7,252.60) scale(1.096,1)" text-anchor="end">4,000</text>
<text class="tk" transform="translate(225.7,265.40) scale(1.096,1)" text-anchor="end">6,000</text>
<text class="yl" transform="translate(199.9,214.10) rotate(-90)" x="0" y="0" text-anchor="middle" textLength="95.6" lengthAdjust="spacingAndGlyphs">Dynamic modules (MPa)</text>
<text class="ve" x="269.0" y="176.5" textLength="82.0" lengthAdjust="spacingAndGlyphs">Viscous components</text>
<text class="ve" x="268.0" y="261.9" textLength="79.0" lengthAdjust="spacingAndGlyphs" xml:space="preserve">Elastic  components</text>
<text class="tp" x="261.7" y="288.8" textLength="66.2" lengthAdjust="spacingAndGlyphs">Temperature (<tspan class="dg" dy="-0.9">°</tspan><tspan dy="0.9">C</tspan>)</text>
<text class="tp" x="192.7" y="159.7" textLength="64.9" lengthAdjust="spacingAndGlyphs">Temperature (<tspan class="dg" dy="-0.9">°</tspan><tspan dy="0.9">C</tspan>)</text>
<text class="pl" x="275.25" y="304.5" text-anchor="middle" font-weight="bold">(<tspan font-weight="bold">e</tspan>)</text>
<rect x="438.8" y="193.7" width="20.8" height="9.8" rx="0.4" fill="#f5854c" stroke="#3a3a3a" stroke-width="0.75"/>
<text class="lg" x="462.6" y="201.70">0.1Hz</text>
<rect x="438.8" y="205.5" width="20.8" height="9.8" rx="0.4" fill="#fddc8e" stroke="#3a3a3a" stroke-width="0.75"/>
<text class="lg" x="462.6" y="213.50">1Hz</text>
<rect x="438.8" y="217.4" width="20.8" height="10.1" rx="0.4" fill="#d9f0f7" stroke="#3a3a3a" stroke-width="0.75"/>
<text class="lg" x="462.6" y="225.55">5Hz</text>
<rect x="438.8" y="229.4" width="20.8" height="10.1" rx="0.4" fill="#80bde1" stroke="#3a3a3a" stroke-width="0.75"/>
<text class="lg" x="462.6" y="237.55">10Hz</text>
<rect x="438.8" y="241.4" width="20.8" height="9.9" rx="0.4" fill="#1f6cb2" stroke="#3a3a3a" stroke-width="0.75"/>
<text class="lg" x="462.6" y="249.45">25Hz</text>
</svg>
</body></html>
